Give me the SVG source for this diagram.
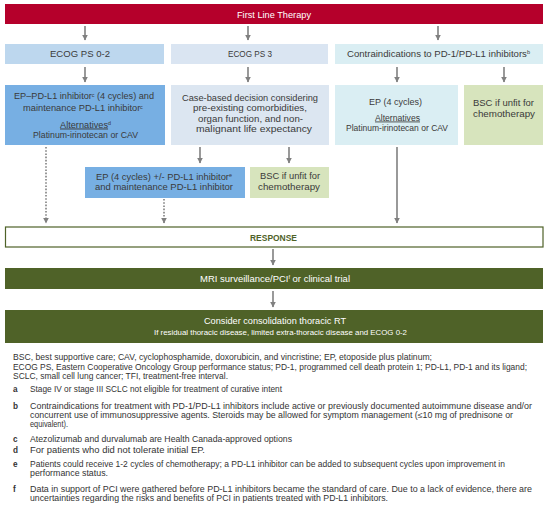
<svg xmlns="http://www.w3.org/2000/svg" width="550" height="521" viewBox="0 0 550 521">
<style>
text{font-family:"Liberation Sans",Arial,sans-serif;fill:#3a3a3a}
.b{font-size:9.3px}
.w{fill:#ffffff}
.sup{font-size:5.4px}
.u{text-decoration:underline}
.fn{font-size:8.2px;fill:#333333}
.fl{font-size:8.2px;font-weight:bold;fill:#333333}
.arr{stroke:#808080;stroke-width:1.6;fill:none}
.dot{stroke:#808080;stroke-width:1.6;fill:none;stroke-dasharray:1.6 1.6}
</style>
<defs>
<marker id="ah" viewBox="0 0 10 10" refX="9" refY="5" markerWidth="3.6" markerHeight="3.6" orient="auto" markerUnits="strokeWidth">
<path d="M0,0 L10,5 L0,10 z" fill="#808080"/>
</marker>
</defs>
<rect width="550" height="521" fill="#ffffff"/>

<g id="first-line">
<rect x="5" y="4" width="538" height="20" fill="#b5002b"/>
<text x="237" y="17.5" class="b w" textLength="74" lengthAdjust="spacingAndGlyphs">First Line Therapy</text>
</g>

<g id="ecog02">
<rect x="5" y="44" width="159" height="20" fill="#bdd7ee"/>
<text x="50" y="57" class="b" textLength="60" lengthAdjust="spacingAndGlyphs">ECOG PS 0-2</text>
</g>
<g id="ecog3">
<rect x="171" y="44" width="157" height="20" fill="#dae5f2"/>
<text x="228" y="57" class="b" textLength="44" lengthAdjust="spacingAndGlyphs">ECOG PS 3</text>
</g>
<g id="contra">
<rect x="335" y="44" width="208" height="20" fill="#daeef3"/>
<text x="347" y="57" class="b" textLength="183" lengthAdjust="spacingAndGlyphs">Contraindications to PD-1/PD-L1 inhibitors<tspan class="sup" dy="-2.8">b</tspan></text>
</g>

<g id="ep-pdl1">
<rect x="5" y="85" width="160" height="60" fill="#77afe3"/>
<text x="14" y="99.3" class="b" textLength="140" lengthAdjust="spacingAndGlyphs">EP–PD-L1 inhibitor<tspan class="sup" dy="-2.8">c</tspan><tspan dy="2.8"> (4 cycles) and</tspan></text>
<text x="23" y="111" class="b">maintenance PD-L1 inhibitor</text>
<text x="140" y="109.2" class="sup">c</text>
<text x="60" y="127.5" class="b" textLength="51" lengthAdjust="spacingAndGlyphs"><tspan class="u">Alternatives</tspan><tspan class="sup" dy="-2.8">d</tspan></text>
<text x="33" y="137.5" class="b" textLength="105" lengthAdjust="spacingAndGlyphs">Platinum-irinotecan or CAV</text>
</g>
<g id="case-based">
<rect x="171" y="85" width="158" height="60" fill="#dce6f1"/>
<text x="182" y="100.5" class="b" textLength="136" lengthAdjust="spacingAndGlyphs">Case-based decision considering</text>
<text x="193" y="111" class="b" textLength="114" lengthAdjust="spacingAndGlyphs">pre-existing comorbidities,</text>
<text x="198" y="121.5" class="b" textLength="105" lengthAdjust="spacingAndGlyphs">organ function, and non-</text>
<text x="196" y="132" class="b" textLength="116" lengthAdjust="spacingAndGlyphs">malignant life expectancy</text>
</g>
<g id="ep4">
<rect x="335" y="85" width="123" height="60" fill="#daeef3"/>
<text x="369" y="105" class="b" textLength="53" lengthAdjust="spacingAndGlyphs">EP (4 cycles)</text>
<text x="375" y="120.5" class="u" font-size="8.4" textLength="45" lengthAdjust="spacingAndGlyphs">Alternatives</text>
<text x="346" y="130.5" font-size="8.4" textLength="102" lengthAdjust="spacingAndGlyphs">Platinum-irinotecan or CAV</text>
</g>
<g id="bsc1">
<rect x="464" y="85" width="79" height="60" fill="#d7e4bd"/>
<text x="473" y="106" class="b" textLength="61" lengthAdjust="spacingAndGlyphs">BSC if unfit for</text>
<text x="473" y="117" class="b" textLength="62" lengthAdjust="spacingAndGlyphs">chemotherapy</text>
</g>

<g id="ep-pm">
<rect x="85" y="167" width="160" height="31" fill="#77afe3"/>
<text x="96" y="179.5" class="b" textLength="136" lengthAdjust="spacingAndGlyphs">EP (4 cycles) +/- PD-L1 inhibitor<tspan class="sup" dy="-2.8">e</tspan></text>
<text x="95" y="190" class="b" textLength="138" lengthAdjust="spacingAndGlyphs">and maintenance PD-L1 inhibitor</text>
</g>
<g id="bsc2">
<rect x="250" y="167" width="79" height="31" fill="#d7e4bd"/>
<text x="260" y="179" class="b" textLength="60" lengthAdjust="spacingAndGlyphs">BSC if unfit for</text>
<text x="258" y="189.5" class="b" textLength="62" lengthAdjust="spacingAndGlyphs">chemotherapy</text>
</g>

<g id="response">
<rect x="5.5" y="227" width="537.5" height="20" fill="#ffffff" stroke="#4f6228" stroke-width="1.2"/>
<text x="250" y="240.5" font-size="9.3" font-weight="bold" style="fill:#4f6228" textLength="47" lengthAdjust="spacingAndGlyphs">RESPONSE</text>
</g>
<g id="mri">
<rect x="5" y="268" width="538" height="21" fill="#4f6228"/>
<text x="200" y="281.5" class="b w" textLength="150" lengthAdjust="spacingAndGlyphs">MRI surveillance/PCI<tspan class="sup w" dy="-2.8">f</tspan><tspan dy="2.8"> or clinical trial</tspan></text>
</g>
<g id="consolidation">
<rect x="5" y="310" width="538" height="33" fill="#4f6228"/>
<text x="204" y="323.5" class="b w" textLength="142" lengthAdjust="spacingAndGlyphs">Consider consolidation thoracic RT</text>
<text x="154" y="334.5" class="w" font-size="8" textLength="253" lengthAdjust="spacingAndGlyphs">If residual thoracic disease, limited extra-thoracic disease and ECOG 0-2</text>
</g>

<g id="connectors">
<line class="arr" x1="85" y1="26" x2="85" y2="40" marker-end="url(#ah)"/>
<line class="arr" x1="248" y1="26" x2="248" y2="40" marker-end="url(#ah)"/>
<line class="arr" x1="438" y1="26" x2="438" y2="40" marker-end="url(#ah)"/>
<line class="arr" x1="85" y1="67" x2="85" y2="82" marker-end="url(#ah)"/>
<line class="arr" x1="248" y1="67" x2="248" y2="82" marker-end="url(#ah)"/>
<line class="arr" x1="397" y1="67" x2="397" y2="82" marker-end="url(#ah)"/>
<line class="arr" x1="504" y1="67" x2="504" y2="82" marker-end="url(#ah)"/>
<line class="arr" x1="200" y1="147" x2="200" y2="163" marker-end="url(#ah)"/>
<line class="arr" x1="289" y1="147" x2="289" y2="163" marker-end="url(#ah)"/>
<line class="dot" x1="46" y1="147" x2="46" y2="223" marker-end="url(#ah)"/>
<line class="dot" x1="164" y1="199" x2="164" y2="223" marker-end="url(#ah)"/>
<line class="arr" x1="397" y1="147" x2="397" y2="223" marker-end="url(#ah)"/>
<line class="arr" x1="273" y1="249" x2="273" y2="265" marker-end="url(#ah)"/>
<line class="arr" x1="273" y1="291" x2="273" y2="307" marker-end="url(#ah)"/>
</g>

<g id="footnotes">
<text x="13" y="360" class="fn" textLength="419" lengthAdjust="spacingAndGlyphs">BSC, best supportive care; CAV, cyclophosphamide, doxorubicin, and vincristine; EP, etoposide plus platinum;</text>
<text x="13" y="369.5" class="fn" textLength="514" lengthAdjust="spacingAndGlyphs">ECOG PS, Eastern Cooperative Oncology Group performance status; PD-1, programmed cell death protein 1; PD-L1, PD-1 and its ligand;</text>
<text x="13" y="378.5" class="fn" textLength="215" lengthAdjust="spacingAndGlyphs">SCLC, small cell lung cancer; TFI, treatment-free interval.</text>

<text x="13" y="392" class="fl">a</text>
<text x="30" y="392" class="fn" textLength="252" lengthAdjust="spacingAndGlyphs">Stage IV or stage III SCLC not eligible for treatment of curative intent</text>

<text x="13" y="409" class="fl">b</text>
<text x="30" y="409" class="fn" textLength="502" lengthAdjust="spacingAndGlyphs">Contraindications for treatment with PD-1/PD-L1 inhibitors include active or previously documented autoimmune disease and/or</text>
<text x="30" y="418" class="fn" textLength="483" lengthAdjust="spacingAndGlyphs">concurrent use of immunosuppressive agents. Steroids may be allowed for symptom management (≤10 mg of prednisone or</text>
<text x="30" y="427" class="fn" textLength="38" lengthAdjust="spacingAndGlyphs">equivalent).</text>

<text x="13" y="441.5" class="fl">c</text>
<text x="30" y="441.5" class="fn" textLength="262" lengthAdjust="spacingAndGlyphs">Atezolizumab and durvalumab are Health Canada-approved options</text>

<text x="13" y="453" class="fl">d</text>
<text x="30" y="453" class="fn" textLength="175" lengthAdjust="spacingAndGlyphs">For patients who did not tolerate initial EP.</text>

<text x="13" y="466.5" class="fl">e</text>
<text x="30" y="466.5" class="fn" textLength="475" lengthAdjust="spacingAndGlyphs">Patients could receive 1-2 cycles of chemotherapy; a PD-L1 inhibitor can be added to subsequent cycles upon improvement in</text>
<text x="30" y="475.5" class="fn" textLength="78" lengthAdjust="spacingAndGlyphs">performance status.</text>

<text x="13" y="491.5" class="fl">f</text>
<text x="30" y="491.5" class="fn" textLength="502" lengthAdjust="spacingAndGlyphs">Data in support of PCI were gathered before PD-L1 inhibitors became the standard of care. Due to a lack of evidence, there are</text>
<text x="30" y="501" class="fn" textLength="358" lengthAdjust="spacingAndGlyphs">uncertainties regarding the risks and benefits of PCI in patients treated with PD-L1 inhibitors.</text>
</g>
</svg>
